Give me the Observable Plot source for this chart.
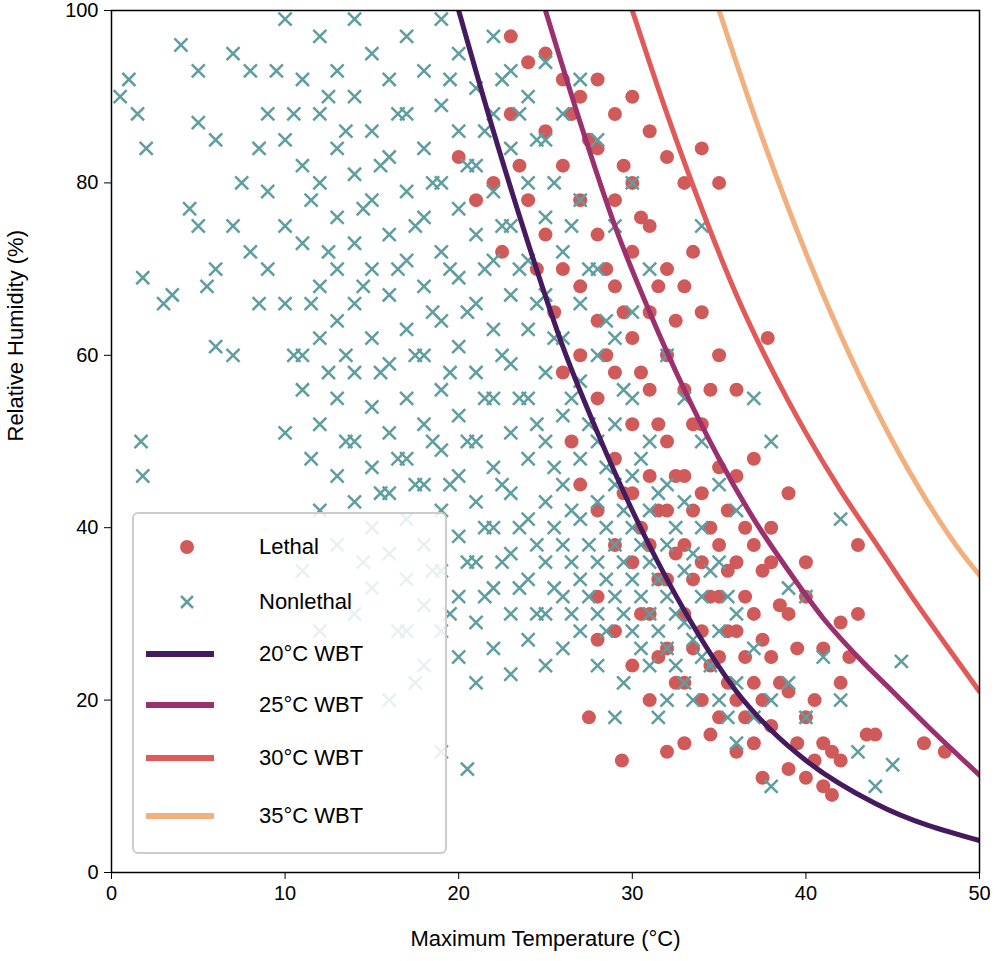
<!DOCTYPE html>
<html><head><meta charset="utf-8">
<script src="https://cdn.jsdelivr.net/npm/d3@7"></script>
<script src="https://cdn.jsdelivr.net/npm/@observablehq/plot@0.6"></script>
<style>
body{margin:0;background:#fff;font-family:"Liberation Sans",Arial,sans-serif}
#wrap{position:relative;width:995px;height:961px}
#legend{position:absolute;left:132px;top:512px;width:311px;height:338px;border:2px solid #ccc;border-radius:6px;background:rgba(255,255,255,0.85);font-size:22px}
.row{position:absolute;left:0;height:30px;display:flex;align-items:center}
.sym{width:70px;display:flex;justify-content:center;align-items:center}
.lab{margin-left:45px}
</style></head><body>
<div id="wrap"><div id="chart"></div><div id="legend"></div></div>
<script>
const nonlethal=[[0.5,90],[1,92],[1.5,88],[2,84],[1.8,69],[1.7,50],[1.8,46],[3.5,67],[3,66],[4,96],[5,93],[5,87],[4.5,77],[5,75],[6,85],[6,70],[5.5,68],[6,61],[7,60],[7,95],[8,93],[7.5,80],[7,75],[8,72],[9,88],[9,79],[9,70],[10,99],[10,85],[10,75],[10,66],[10,51],[11,92],[11,82],[11,73],[11,60],[11,56],[11.5,48],[12,97],[12,88],[12,80],[12,68],[12,62],[12,52],[12,42],[13,93],[13,84],[13,76],[13,70],[13,64],[13,55],[13,46],[13,38],[14,99],[14,90],[14,81],[14,73],[14,66],[14,58],[14,50],[14,43],[15,95],[15,86],[15,78],[15,70],[15,62],[15,54],[15,47],[15,40],[15,33],[16,92],[16,83],[16,74],[16,67],[16,59],[16,51],[16,44],[16,37],[17,97],[17,88],[17,79],[17,71],[17,63],[17,55],[17,48],[17,41],[17,34],[17,28],[18,93],[18,84],[18,76],[18,68],[18,60],[18,52],[18,45],[18,38],[18,31],[18,24],[19,99],[19,89],[19,80],[19,72],[19,64],[19,56],[19,49],[19,42],[19,35],[19,28],[20,95],[20,86],[20,77],[20,69],[20,61],[20,53],[20,46],[20,39],[20,32],[20,25],[20.5,12],[21,91],[21,82],[21,74],[21,66],[21,58],[21,50],[21,43],[21,36],[21,29],[21,22],[22,97],[22,88],[22,79],[22,71],[22,63],[22,55],[22,47],[22,40],[22,33],[22,26],[23,93],[23,84],[23,75],[23,67],[23,59],[23,51],[23,44],[23,37],[23,30],[23,23],[24,90],[24,80],[24,71],[24,63],[24,55],[24,48],[24,41],[24,34],[24,27],[25,94],[25,85],[25,76],[25,67],[25,58],[25,50],[25,43],[25,36],[25,30],[25,24],[26,88],[26,72],[26,62],[26,53],[26,45],[26,38],[26,32],[26,26],[27,92],[27,78],[27,66],[27,57],[27,48],[27,41],[27,34],[27,28],[28,85],[28,70],[28,60],[28,50],[28,43],[28,36],[28,30],[28,24],[29,75],[29,62],[29,52],[29,45],[29,38],[29,32],[29,18],[30,80],[30,65],[30,55],[30,46],[30,40],[30,34],[30,28],[31,70],[31,50],[31,42],[31,36],[31,30],[31,24],[32,60],[32,45],[32,38],[32,32],[32,26],[32,20],[33,55],[33,43],[33,35],[33,29],[33,22],[34,75],[34,50],[34,40],[34,32],[34,25],[35,45],[35,36],[35,28],[35,20],[36,42],[36,30],[36,22],[36,15],[37,55],[37,26],[37,18],[38,50],[38,10],[38,20],[39,33],[39,22],[40,32],[40,18],[41,25],[42,41],[42,20],[43,14],[44,10],[45.5,24.5],[45,12.5],[12,28],[14,30],[11,35],[19,14],[16,20],
[10.5,88],[11.5,78],[12.5,72],[13.5,86],[13.5,60],[14.5,77],[14.5,68],[15.5,82],[15.5,58],[16.5,88],[16.5,70],[16.5,48],[17.5,75],[17.5,60],[17.5,45],[18.5,80],[18.5,65],[18.5,50],[18.5,35],[19.5,92],[19.5,70],[19.5,58],[19.5,45],[19.5,30],[20.5,82],[20.5,65],[20.5,50],[20.5,36],[21.5,86],[21.5,70],[21.5,55],[21.5,40],[21.5,32],[22.5,92],[22.5,75],[22.5,60],[22.5,45],[22.5,36],[23.5,88],[23.5,70],[23.5,55],[23.5,40],[23.5,33],[24.5,85],[24.5,66],[24.5,52],[24.5,38],[24.5,30],[25.5,80],[25.5,62],[25.5,47],[25.5,40],[25.5,33],[26.5,75],[26.5,55],[26.5,42],[26.5,36],[26.5,30],[27.5,70],[27.5,52],[27.5,38],[27.5,32],[28.5,64],[28.5,47],[28.5,40],[28.5,34],[28.5,28],[29.5,56],[29.5,42],[29.5,36],[29.5,30],[29.5,22],[30.5,48],[30.5,38],[30.5,32],[30.5,26],[31.5,44],[31.5,34],[31.5,28],[31.5,18],[32.5,40],[32.5,30],[32.5,24],[33.5,37],[33.5,27],[33.5,20],[34.5,35],[34.5,24],[35.5,32],[35.5,18],[8.5,84],[9.5,93],[12.5,90],[11.5,66],[13.5,50],[15.5,44],[14.5,36],[16.5,28],[17.5,22],[12.5,58],[10.5,60],[8.5,66]];
const lethal=[[20,83],[21,78],[22,80],[22.5,72],[23,97],[23,88],[23.5,82],[24,94],[24,78],[24.5,70],[25,95],[25,86],[25,74],[25.5,65],[26,92],[26,82],[26,70],[26,58],[26.5,50],[27,90],[27,78],[27,68],[27,60],[27,45],[27.5,18],[28,92],[28,84],[28,74],[28,64],[28,55],[28,42],[28,32],[28,27],[29,88],[29,78],[29,68],[29,58],[29,48],[29,38],[29,28],[29.4,13],[30,90],[30,80],[30,72],[30,62],[30,52],[30,44],[30,36],[30,24],[31,86],[31,75],[31,65],[31,56],[31,46],[31,38],[31,30],[31,20],[32,83],[32,70],[32,60],[32,50],[32,42],[32,34],[32,26],[32,14],[33,80],[33,68],[33,56],[33,46],[33,38],[33,30],[33,22],[33,15],[34,84],[34,65],[34,52],[34,44],[34,36],[34,28],[34,20],[35,80],[35,60],[35,47],[35,38],[35,32],[35,25],[35,18],[36,56],[36,46],[36,36],[36,28],[36,20],[36,14],[37,48],[37,38],[37,30],[37,22],[37,15],[37.8,62],[37.5,11],[38,36],[38,25],[38,17],[39,44],[39,30],[39,21],[39,12],[40,32],[40,18],[40,11],[41,26],[41,15],[41,10],[41.5,9],[42,29],[42,22],[42,13],[43,38],[43,30],[44,16],[46.8,15],[48,14],[40,36],[38,40],
[26.5,88],[27.5,85],[28.5,70],[28.5,60],[29.5,82],[29.5,65],[29.5,44],[30.5,76],[30.5,58],[30.5,40],[30.5,30],[31.5,68],[31.5,52],[31.5,42],[31.5,34],[31.5,25],[32.5,64],[32.5,46],[32.5,37],[32.5,22],[33.5,72],[33.5,52],[33.5,42],[33.5,34],[33.5,26],[34.5,56],[34.5,40],[34.5,32],[34.5,24],[34.5,16],[35.5,42],[35.5,35],[35.5,28],[35.5,22],[36.5,40],[36.5,32],[36.5,25],[36.5,18],[37.5,35],[37.5,27],[37.5,20],[38.5,31],[38.5,22],[39.5,26],[39.5,15],[40.5,20],[40.5,13],[41.5,14],[42.5,25],[43.5,16]];
const wbt20=[[20,100],[22,86],[24,73],[26,61],[28,51],[30,42],[32,34],[34,27],[36,21],[38,16.5],[40,13],[44,8],[50,3.7]];
const wbt25=[[25,100],[27,87],[29,75],[31,65],[33,56],[35,48],[37,41],[39,35],[41,29.5],[43,25],[45,21],[47,17],[50,11.3]];
const wbt30=[[30,100],[32,88],[34,77],[36,67],[38,58.5],[40,51],[42,44.3],[44,38.3],[46,32.3],[48,26.6],[50,21]];
const wbt35=[[35,100],[37,88],[39,77],[41,67],[43,58],[45,50],[47,43],[49,37],[50,34.5]];
const cL="#d05a5a",cN="#5f9ea0";
const curves=[["20°C WBT",wbt20,"#461a5e"],["25°C WBT",wbt25,"#9b306f"],["30°C WBT",wbt30,"#e05a59"],["35°C WBT",wbt35,"#f2b07e"]];
const chart=Plot.plot({
  width:995,height:961,marginLeft:111,marginRight:16,marginTop:10,marginBottom:89,
  style:{fontFamily:"Liberation Sans, Arial, sans-serif",fontSize:"20px",color:"#000"},
  x:{domain:[0,50],label:null},
  y:{domain:[0,100],label:null},
  marks:[
    Plot.dot(lethal,{x:d=>d[0],y:d=>d[1],r:7,fill:cL,clip:true}),
    Plot.dot(nonlethal,{x:d=>d[0],y:d=>d[1],r:6,symbol:"times",stroke:cN,strokeWidth:2.5,clip:true}),
    ...curves.map(c=>Plot.line(c[1],{x:d=>d[0],y:d=>d[1],stroke:c[2],strokeWidth:5,curve:"monotone-x",clip:true})),
    Plot.frame({stroke:"#000",strokeWidth:1.5}),
    Plot.axisX({ticks:[0,10,20,30,40,50],tickSize:7,fontSize:20,tickPadding:6}),
    Plot.axisY({ticks:[0,20,40,60,80,100],tickSize:7,fontSize:20,tickPadding:6}),
    Plot.text(["Maximum Temperature (°C)"],{frameAnchor:"bottom",dy:73,fontSize:22}),
    Plot.text(["Relative Humidity (%)"],{frameAnchor:"left",dx:-96,rotate:-90,fontSize:22})
  ]
});
document.getElementById("chart").appendChild(chart);
const lg=document.getElementById("legend");
const items=[["dot",cL,"Lethal"],["x",cN,"Nonlethal"],...curves.map(c=>["line",c[2],c[0]])];
const tops=[33,88,140,191,244,302];
items.forEach((it,i)=>{
  const r=document.createElement("div");r.className="row";r.style.top=(tops[i]-15)+"px";r.style.left="10px";
  let s;
  if(it[0]=="dot")s=`<svg width="70" height="30"><circle cx="43" cy="15" r="7" fill="${it[1]}"/></svg>`;
  else if(it[0]=="x")s=`<svg width="70" height="30"><path d="M37,9L49,21M49,9L37,21" stroke="${it[1]}" stroke-width="2.5"/></svg>`;
  else s=`<svg width="70" height="30"><line x1="2" x2="84" y1="15" y2="15" stroke="${it[1]}" stroke-width="6"/></svg>`;
  r.innerHTML=`<div class="sym">${s}</div><div class="lab">${it[2]}</div>`;
  lg.appendChild(r);
});
</script></body></html>
